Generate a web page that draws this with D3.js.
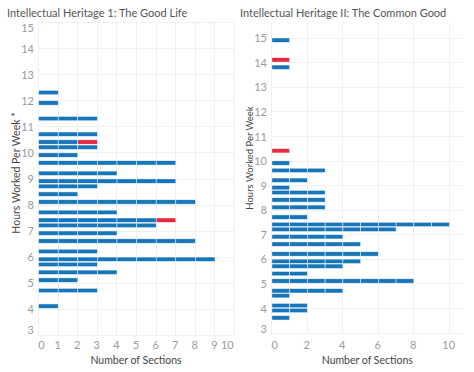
<!DOCTYPE html>
<html>
<head>
<meta charset="utf-8">
<script src="https://cdn.jsdelivr.net/npm/d3@7"></script>
<style>
  html, body { margin: 0; padding: 0; background: #fff; }
  svg text { font-family: Lato, "Open Sans", sans-serif; }
</style>
</head>
<body>
<svg id="chart" width="474" height="372"></svg>
<script>
// ---------- Data ----------
const titleLeft = "Intellectual Heritage 1: The Good Life";
const titleRight = "Intellectual Heritage II: The Common Good";
const yTitleLeft = "Hours Worked Per Week *";
const yTitleRight = "Hours Worked Per Week";
const xTitle = "Number of Sections";

// Left panel: hours per week (row position), blue section counts, red section counts
const hoursLeft = [12.3, 11.9, 11.3, 10.7, 10.4, 10.2, 9.9, 9.6, 9.2, 8.9, 8.7, 8.4, 8.1, 7.7, 7.4, 7.2, 6.9, 6.6, 6.2, 5.9, 5.7, 5.4, 5.1, 4.7, 4.1];
const blueLeft  = [1, 1, 3, 3, 2, 3, 2, 7, 4, 7, 3, 2, 8, 4, 6, 6, 4, 8, 3, 9, 3, 4, 2, 3, 1];
const redLeft   = [0, 0, 0, 0, 1, 0, 0, 0, 0, 0, 0, 0, 0, 0, 1, 0, 0, 0, 0, 0, 0, 0, 0, 0, 0];

// Right panel
const hoursRight = [14.9, 14.1, 13.8, 10.4, 9.9, 9.6, 9.2, 8.9, 8.7, 8.4, 8.1, 7.7, 7.4, 7.2, 6.9, 6.6, 6.2, 5.9, 5.7, 5.4, 5.1, 4.7, 4.5, 4.1, 3.9, 3.6];
const blueRight  = [1, 0, 1, 0, 1, 3, 2, 1, 3, 3, 3, 2, 10, 7, 4, 5, 6, 5, 4, 2, 8, 4, 1, 2, 2, 1];
const redRight   = [0, 1, 0, 1, 0, 0, 0, 0, 0, 0, 0, 0, 0, 0, 0, 0, 0, 0, 0, 0, 0, 0, 0, 0, 0, 0];

const yTicks = [3, 4, 5, 6, 7, 8, 9, 10, 11, 12, 13, 14, 15];
const xTicksLeft = [0, 1, 2, 3, 4, 5, 6, 7, 8, 9, 10];
const xTicksRight = [0, 2, 4, 6, 8, 10];

// ---------- Styles ----------
const BLUE = "#1775ba";
const RED = "#e4283d";
const GRID = "#f0f0f0";
const TICK = "#9a9a9a";
const TITLE = "#555";
const AXTITLE = "#444";

const svg = d3.select("#chart");
svg.append("rect").attr("width", 474).attr("height", 372).attr("fill", "#fff");

function panel(cfg) {
  const g = svg.append("g");
  const x = d3.scaleLinear().domain(cfg.xDomain).range(cfg.xRange);
  const y = d3.scaleLinear().domain(cfg.yDomain).range(cfg.yRange);
  const [x0, x1] = cfg.xRange;
  const [yb, yt] = cfg.yRange;

  // grid
  g.append("g").selectAll("line").data(cfg.xTicks).join("line")
    .attr("x1", d => Math.round(x(d)) + 0.5).attr("x2", d => Math.round(x(d)) + 0.5)
    .attr("y1", yt).attr("y2", yb)
    .attr("stroke", GRID).attr("stroke-width", 1);
  g.append("g").selectAll("line").data(yTicks).join("line")
    .attr("y1", d => Math.round(y(d)) + 0.5).attr("y2", d => Math.round(y(d)) + 0.5)
    .attr("x1", x0).attr("x2", x1)
    .attr("stroke", GRID).attr("stroke-width", 1);

  // bars as unit cells
  const cells = [];
  cfg.hours.forEach((h, i) => {
    const nb = cfg.blue[i], nr = cfg.red[i];
    for (let k = 0; k < nb; k++) cells.push({ h, k, c: BLUE });
    for (let k = 0; k < nr; k++) cells.push({ h, k: nb + k, c: RED });
  });
  const bh = 4.4;
  g.append("g").selectAll("rect").data(cells).join("rect")
    .attr("x", d => x(d.k) + 0.6)
    .attr("width", d => x(d.k + 1) - x(d.k))
    .attr("y", d => y(d.h) - bh / 2)
    .attr("height", bh)
    .attr("fill", d => d.c)
    .attr("stroke", "#fff").attr("stroke-width", 0.6).attr("stroke-opacity", 0.8);

  // y tick labels (clamped into plot range)
  const yl = g.append("g").selectAll("text").data(yTicks).join("text")
    .attr("x", cfg.yLabelX).attr("y", d => y(d))
    .attr("text-anchor", "end").attr("dominant-baseline", "central")
    .attr("font-size", 11).attr("fill", TICK)
    .text(d => d);
  yl.each(function (d) {
    const bb = this.getBBox();
    const half = bb.height / 2 - 1;
    const yy = Math.max(yt + half, Math.min(yb - half, y(d)));
    d3.select(this).attr("y", yy);
  });

  // x tick labels (clamped)
  const xl = g.append("g").selectAll("text").data(cfg.xTicks).join("text")
    .attr("x", d => x(d)).attr("y", 344)
    .attr("text-anchor", "middle").attr("dominant-baseline", "central")
    .attr("font-size", 11).attr("fill", TICK)
    .text(d => d);
  xl.each(function (d) {
    const bb = this.getBBox();
    const half = bb.width / 2;
    const xx = Math.max(x0 + half, Math.min(x1 - half, x(d)));
    d3.select(this).attr("x", xx);
  });

  // titles
  g.append("text").attr("x", cfg.titleX).attr("y", 12)
    .attr("dominant-baseline", "central")
    .attr("font-size", 11).attr("fill", TITLE).text(cfg.title);
  g.append("text").attr("x", (x0 + x1) / 2 + cfg.xTitleDx).attr("y", 360)
    .attr("text-anchor", "middle").attr("dominant-baseline", "central")
    .attr("font-size", 10.5).attr("fill", AXTITLE).text(xTitle);
  g.append("text")
    .attr("transform", `translate(${cfg.yTitleX},${cfg.yTitleY}) rotate(-90)`)
    .attr("text-anchor", "middle").attr("dominant-baseline", "central")
    .attr("font-size", cfg.yTitleSize).attr("fill", AXTITLE).text(cfg.yTitle);
}

panel({
  hours: hoursLeft, blue: blueLeft, red: redLeft,
  xDomain: [0, 10], xRange: [38, 234],
  yDomain: [3, 15], yRange: [334.8, 22.2],
  xTicks: xTicksLeft, yLabelX: 34,
  title: titleLeft, titleX: 7, xTitleDx: 0,
  yTitle: yTitleLeft, yTitleX: 16, yTitleY: 173, yTitleSize: 10.5
});

panel({
  hours: hoursRight, blue: blueRight, red: redRight,
  xDomain: [0, 10.82], xRange: [271.3, 463.3],
  yDomain: [2.942, 15.6], yRange: [334, 23],
  xTicks: xTicksRight, yLabelX: 267,
  title: titleRight, titleX: 240, xTitleDx: 0,
  yTitle: yTitleRight, yTitleX: 249.5, yTitleY: 158, yTitleSize: 9.5
});
</script>
</body>
</html>
